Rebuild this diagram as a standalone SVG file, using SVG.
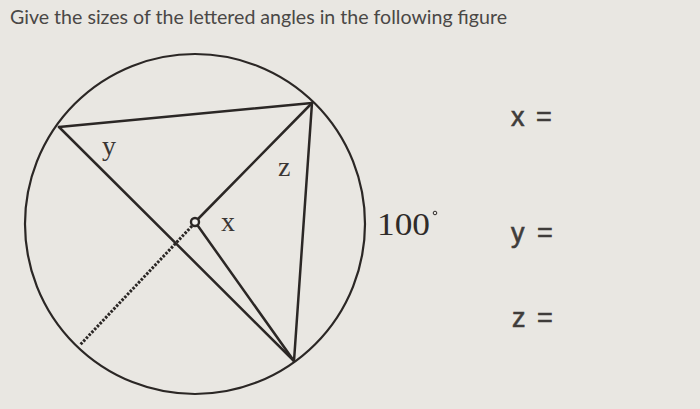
<svg xmlns="http://www.w3.org/2000/svg" width="700" height="409" viewBox="0 0 700 409">
<style>
.bg{fill:#e9e7e2}
.ln{stroke:#2b2725;stroke-width:2.5;fill:none;stroke-linecap:round}
.thin{stroke:#2b2725;stroke-width:2.2;fill:none}
.lbl{font-family:"Liberation Serif",serif;font-size:28px;fill:#3a3634}
.ans{font-family:"Liberation Sans",sans-serif;font-size:27px;fill:#3f3c3a;stroke:#3f3c3a;stroke-width:0.6}
.title{font-family:Lato,"Liberation Sans",sans-serif;font-size:20px;fill:#4a4846}
</style>
<rect class="bg" x="0" y="0" width="700" height="409"/>
<text class="title" x="10" y="24" textLength="497" lengthAdjust="spacingAndGlyphs">Give the sizes of the lettered angles in the following figure</text>
<g id="circle"><circle class="thin" cx="195" cy="224" r="170"/></g>
<g id="connectors">
<line class="ln" x1="59" y1="127" x2="312" y2="103"/>
<line class="ln" x1="59" y1="127" x2="294" y2="361"/>
<line class="ln" x1="312" y1="103" x2="294" y2="361"/>
<line class="ln" x1="198" y1="219" x2="312" y2="103"/>
<line class="ln" x1="198" y1="226" x2="294" y2="361"/>
<line x1="192" y1="226" x2="80" y2="345" stroke="#2b2725" stroke-width="3" stroke-dasharray="2.5 1.5"/>
</g>
<g id="center"><circle cx="195" cy="222" r="4" fill="#f2f1ee" stroke="#2b2725" stroke-width="2.4"/></g>
<g id="labels">
<text class="lbl" x="102" y="155">y</text>
<text class="lbl" x="278" y="176">z</text>
<text class="lbl" x="221" y="231">x</text>
<text x="377" y="235" font-family="'Liberation Serif',serif" font-size="32" fill="#2f2b29" textLength="53" lengthAdjust="spacingAndGlyphs">100</text>
<circle cx="435" cy="213" r="1.8" fill="none" stroke="#2f2b29" stroke-width="1"/>
</g>
<g id="answers">
<text class="ans" x="511" y="126">x</text><text class="ans" x="536" y="126">=</text>
<text class="ans" x="511" y="242">y</text><text class="ans" x="537" y="242">=</text>
<text class="ans" x="512" y="327">z</text><text class="ans" x="537" y="327">=</text>
</g>
</svg>
